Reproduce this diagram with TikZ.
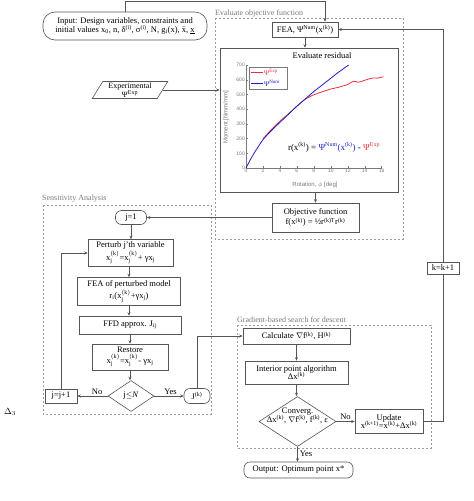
\documentclass[tikz,border=0pt]{standalone}
\usepackage{fontspec}
\setmainfont{Liberation Serif}
\setsansfont{Liberation Sans}
\usetikzlibrary{shapes.geometric,arrows.meta}
\newcommand{\sps}[1]{\textsuperscript{#1}}
\newcommand{\sbs}[1]{\textsubscript{#1}}
\newcommand{\xjk}{$\mathrm{x}_{\mathrm{j}}^{(\mathrm{k})}$}
\definecolor{lc}{HTML}{555555}
\definecolor{dc}{HTML}{9A9A9A}
\definecolor{gl}{HTML}{7A7A7A}
\definecolor{pblue}{HTML}{1F1FC8}
\definecolor{pred}{HTML}{E8303A}
\tikzset{
  box/.style={draw=lc, line width=0.6pt, fill=white, align=center, inner sep=1pt, font=\fontsize{8.5}{9.5}\selectfont},
  rbox/.style={box, rounded corners=6pt},
  dec/.style={draw=lc, line width=0.6pt, fill=white, diamond, inner sep=0pt},
  dashbox/.style={draw=dc, line width=0.5pt, dash pattern=on 2pt off 2pt},
  grp/.style={text=gl, font=\fontsize{8}{9}\selectfont, anchor=base west, inner sep=0pt},
  conn/.style={draw=lc, line width=0.6pt},
  arr/.style={conn, -{Stealth[length=3.5pt,width=3pt]}},
  lbl/.style={font=\fontsize{8.5}{9.5}\selectfont, inner sep=0pt},
  tick/.style={font=\sffamily\fontsize{5}{6}\selectfont, text=gl, inner sep=1pt}
}
\begin{document}
\begin{tikzpicture}[x=1pt,y=-1pt]
\useasboundingbox (0,0) rectangle (474,501);

% group frames
\draw[dashbox] (215,18) rectangle (403,239);
\node[grp] (gEval) at (215,15) {Evaluate objective function};
\draw[dashbox] (43,205) rectangle (211,414);
\node[grp] (gSens) at (42,200) {Sensitivity Analysis};
\draw[dashbox] (237,325) rectangle (431,448);
\node[grp] (gGrad) at (237,322) {Gradient-based search for descent};

% top nodes
\node[rbox, rounded corners=12pt, minimum width=164, minimum height=28] (input) at (125,26)
  {Input: Design variables, constraints and\\[-1pt] initial values x\sbs{0}, n, δ\sps{(i)}, σ\sps{(i)}, N, g\sbs{i}(x), $\bar{\mathrm{x}}$, $\underline{\mathrm{x}}$};
\node[box, minimum width=66, minimum height=15] (fea) at (305,29.5) {FEA, Ψ\sps{Num}(x\sps{(k)})};
\node[box, trapezium, trapezium left angle=60, trapezium right angle=120, trapezium stretches=true,
      minimum width=76, minimum height=17, inner sep=0pt, font=\fontsize{8}{9}\selectfont] (exp) at (130,90) {Experimental\\[0pt] Ψ\sps{Exp}};

% plot frame
\node[box, minimum width=178, minimum height=144] (plot) at (309,120) {};
\node[lbl] (ptitle) at (322,55.5) {Evaluate residual};
\begin{scope}[shift={(246,168)}, x=8.48pt, y=0.1471pt]
  \draw[gl, line width=0.4pt] (0,700) -- (0,0) -- (16,0);
  \foreach \v in {0,100,...,700} {
    \draw[gl, line width=0.4pt] (0,\v) -- (0.25,\v);
    \node[tick, anchor=east] at (0,\v) {\v};
  }
  \foreach \u in {0,2,...,16} {
    \draw[gl, line width=0.4pt] (\u,0) -- (\u,15);
    \node[tick, anchor=north] at (\u,0) {\u};
  }
  \draw[pred, line width=0.8pt] plot[smooth] coordinates {(2,198) (3,262) (4,318) (5,368) (6,420) (7,468) (8,498) (9,518) (10,537) (11,550) (12,568) (12.5,586) (12.8,590) (13.2,583) (13.8,592) (14.5,606) (15,612) (15.5,611) (16.2,620)};
  \draw[pblue, line width=0.8pt] plot[smooth] coordinates {(0,0) (0.5,55) (1,105) (2,192) (3,255) (4,310) (5,365) (6,420) (7,470) (8,520) (9,565) (10,610) (11,655) (12.1,700)};
\end{scope}
\node[tick, rotate=90, font=\sffamily\fontsize{6}{7}\selectfont] (ylab) at (226,117) {Moment [Nmm/mm]};
\node[tick, font=\sffamily\fontsize{6}{7}\selectfont] (xlab) at (315,185) {Rotation, $\phi$ [deg]};
% legend
\node[draw=gl, line width=0.3pt, minimum width=38, minimum height=22, inner sep=0pt, fill=white] (leg) at (268,78) {};
\draw[pred, line width=0.8pt] (251,72.5) -- (263,72.5);
\node[lbl, text=pred, anchor=west, font=\fontsize{7}{8}\selectfont] (legE) at (264,72.5) {Ψ\sps{Exp}};
\draw[pblue, line width=0.8pt] (251,83.5) -- (263,83.5);
\fill[pblue] (257,83.5) circle (0.9pt);
\node[lbl, text=pblue, anchor=west, font=\fontsize{7}{8}\selectfont] (legN) at (264,83.5) {Ψ\sps{Num}};
% residual equation
\node[lbl, font=\fontsize{9}{10}\selectfont] (req) at (334,147)
  {r(x\sps{(k)}) = \textcolor{pblue}{Ψ\sps{Num}(x\sps{(k)})} - \textcolor{pred}{Ψ\sps{Exp}}};

\node[box, minimum width=87, minimum height=29] (obj) at (315.5,217.5)
  {Objective function\\[1pt] f(x\sps{(k)}) = ½r\sps{(k)T}r\sps{(k)}};

% sensitivity
\node[rbox, minimum width=31, minimum height=14] (j1) at (131,217.5) {j=1};
\node[box, minimum width=85, minimum height=27] (pert) at (130.5,253)
  {Perturb j'th variable\\[1pt] \xjk=\xjk+ γx\sbs{j}};
\node[box, minimum width=103, minimum height=28] (femp) at (129,291.5)
  {FEA of perturbed model\\[1pt] r\sbs{i}(\xjk+γx\sbs{j})};
\node[box, minimum width=102, minimum height=18] (ffd) at (130,325) {FFD approx. J\sbs{ij}};
\node[box, minimum width=76, minimum height=26] (rest) at (130,357)
  {Restore\\[1pt] \xjk=\xjk - γx\sbs{j}};
\node[dec, minimum width=46, minimum height=31] (sdec) at (131,396) {};
\node[lbl] (sdect) at (sdec) {j$\leq$\textit{N}};
\node[box, minimum width=32, minimum height=14] (jj) at (61,396) {j=j+1};
\node[rbox, minimum width=26, minimum height=15] (jk) at (197,396) {J\sps{(k)}};

% gradient
\node[box, minimum width=107, minimum height=16] (calc) at (296.5,336) {Calculate $\nabla$f\sps{(k)}, H\sps{(k)}};
\node[box, minimum width=103, minimum height=23] (intp) at (296.5,372.5)
  {Interior point algorithm\\[-1pt] Δx\sps{(k)}};
\node[dec, minimum width=77, minimum height=50] (cdec) at (297.5,421.5) {};
\node[lbl, align=center] (cdect) at (297.5,416) {Converg.\\[-1pt] Δx\sps{(k)}, $\nabla$f\sps{(k)}, f\sps{(k)}, ε};
\node[box, minimum width=68, minimum height=24] (upd) at (389,421.5)
  {Update\\[-1pt] x\sps{(k+1)}=x\sps{(k)}+Δx\sps{(k)}};
\node[rbox, minimum width=109, minimum height=16] (out) at (298.5,470) {Output: Optimum point x*};
\node[box, minimum width=32, minimum height=12] (kk) at (443,268) {k=k+1};

\node[lbl, font=\fontsize{9}{10}\selectfont] (d3) at (10,412) {$\Delta_3$};

% connectors
\draw[arr] (input.north) -- ++(0,-10) -| ([xshift=20pt]fea.north);
\draw[arr] (fea.south) -- (fea.south |- plot.north);
\draw[arr] (exp.east) -- (exp.east -| plot.west);
\draw[arr] (obj.north |- plot.south) -- (obj.north);
\draw[arr] (obj.west) -- (j1.east);
\draw[arr] (j1.south) -- (j1.south |- pert.north);
\draw[arr] (pert.south -| femp.north) -- (femp.north);
\draw[arr] (femp.south) -- (femp.south |- ffd.north);
\draw[arr] (ffd.south) -- (rest.north);
\draw[arr] (rest.south) -- (rest.south |- sdec.north);
\draw[arr] (sdec.west) -- node[lbl, above=1.5pt, pos=0.35] {No} (jj.east);
\draw[arr] (jj.north) |- (pert.west);
\draw[arr] (sdec.east) -- node[lbl, above=1.5pt, pos=0.55] {Yes} (jk.west);
\draw[arr] (jk.north) |- (calc.west);
\draw[arr] (calc.south) -- (calc.south |- intp.north);
\draw[arr] (intp.south) -- (intp.south |- cdec.north);
\draw[arr] (cdec.east) -- node[lbl, above=1.5pt, pos=0.5] {No} (upd.west);
\draw[arr] (cdec.south) -- node[lbl, right=2pt, pos=0.5] {Yes} (cdec.south |- out.north);
\draw[conn] (upd.east) -| (kk.south);
\draw[arr] (kk.north) |- (fea.east);
\end{tikzpicture}
\end{document}
